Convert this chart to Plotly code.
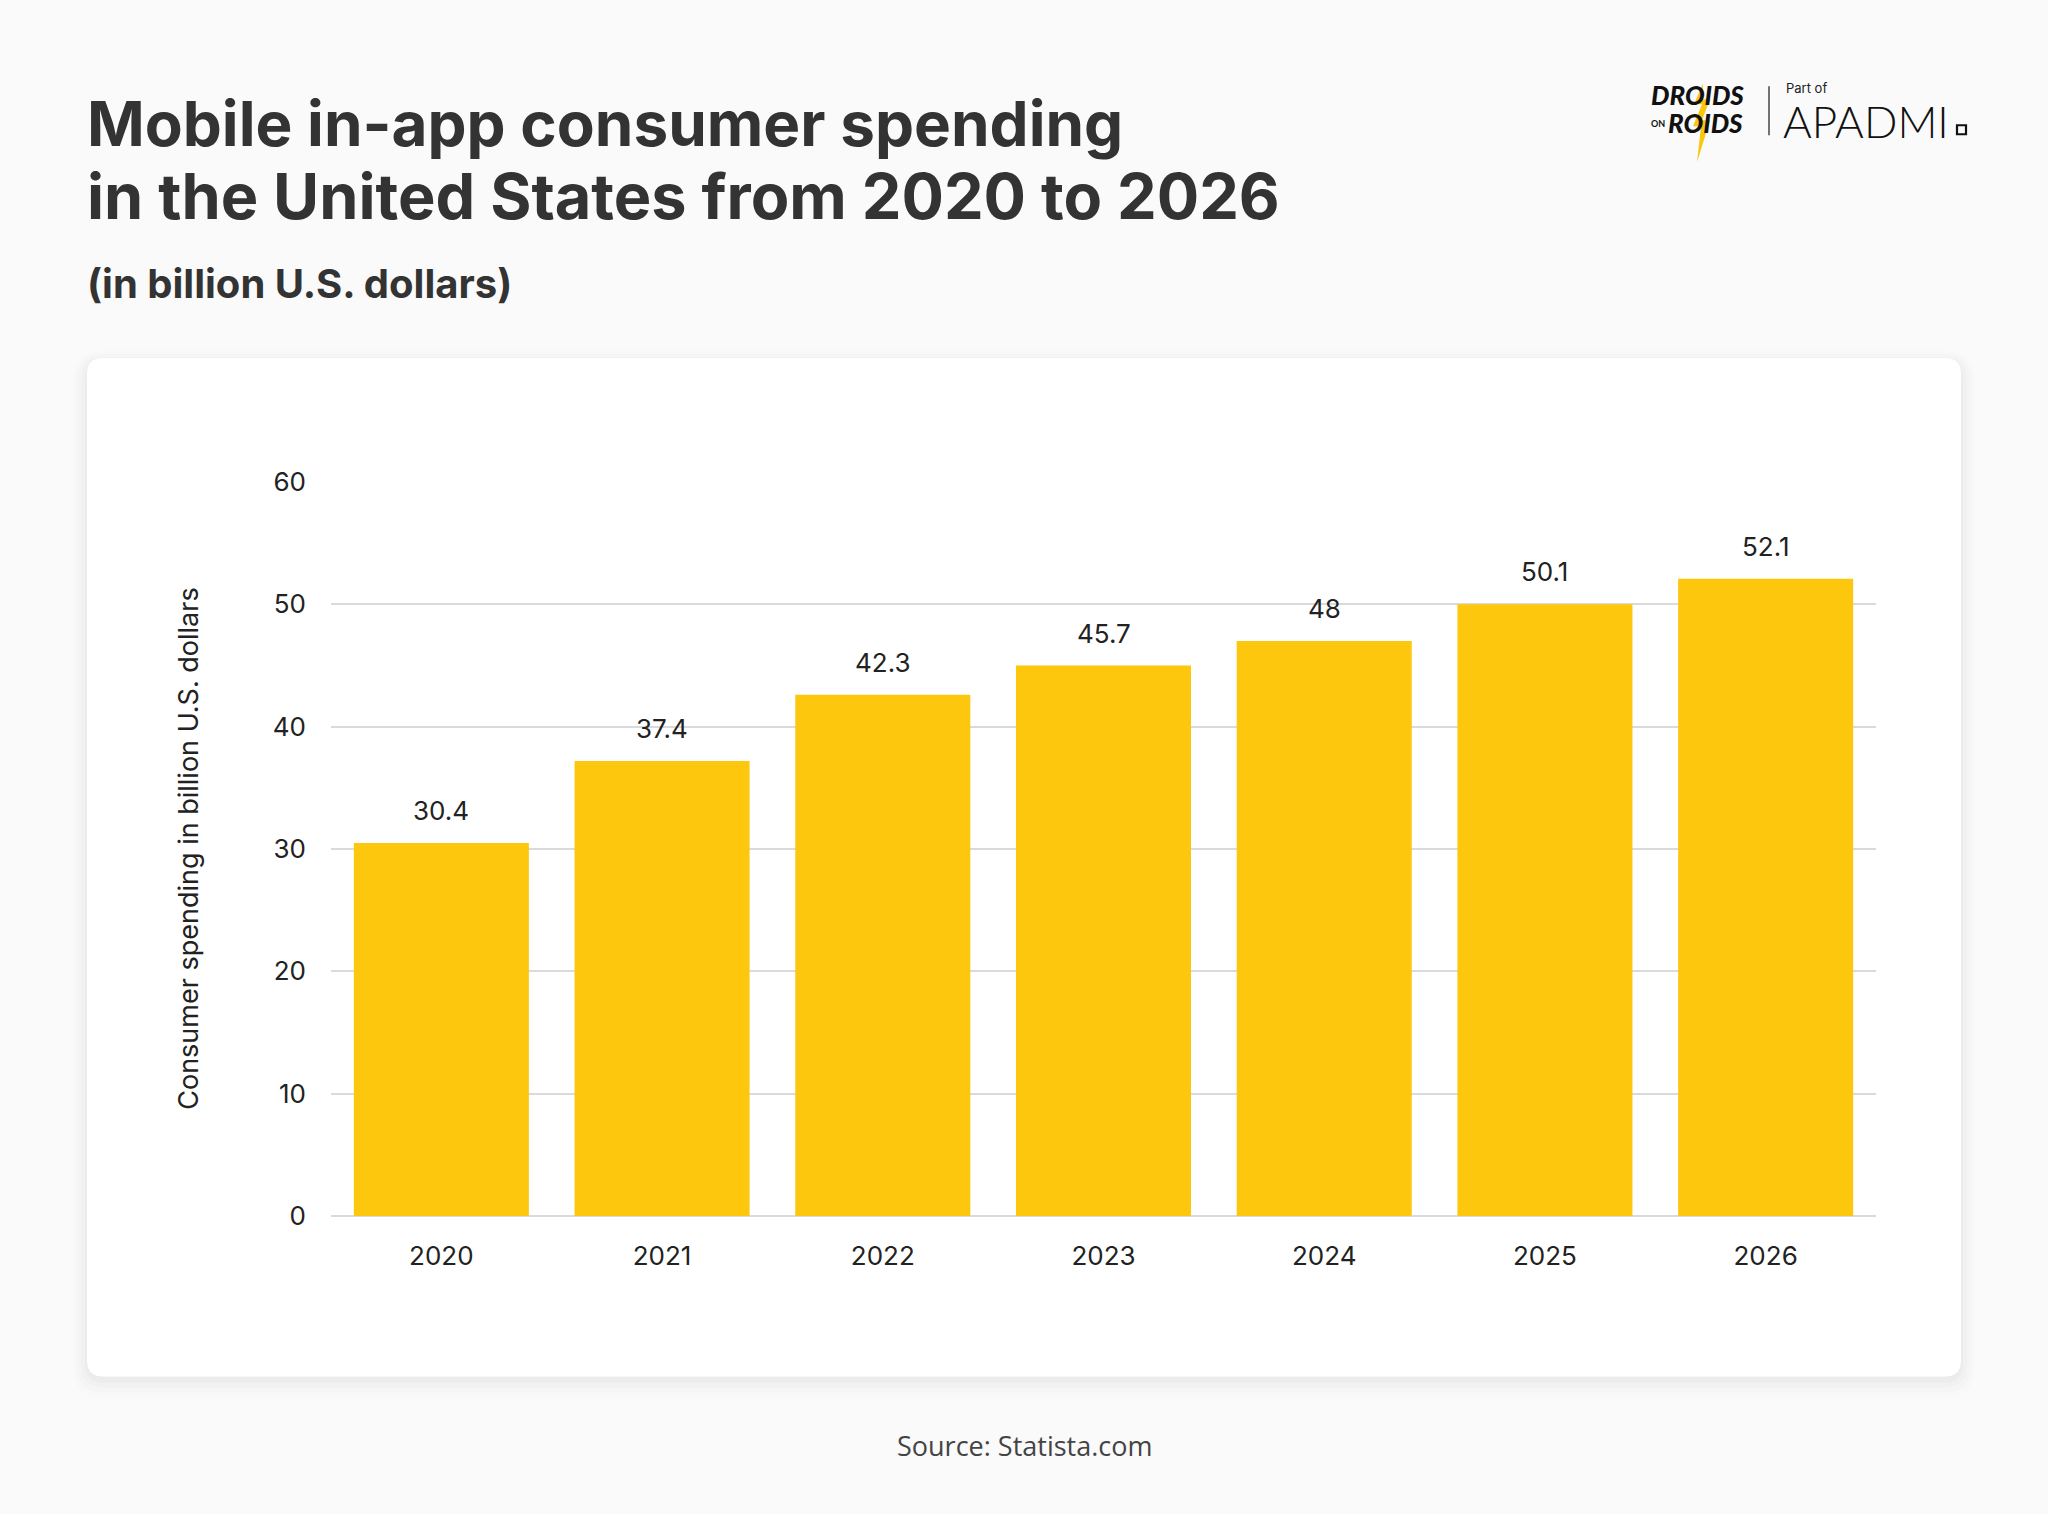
import plotly.graph_objects as go

# ---- data ----
years = ["2020", "2021", "2022", "2023", "2024", "2025", "2026"]
spending = [30.5, 37.2, 42.6, 45.0, 47.0, 50.0, 52.1]          # bar heights as drawn
value_labels = ["30.4", "37.4", "42.3", "45.7", "48", "50.1", "52.1"]  # printed labels
y_ticks = [0, 10, 20, 30, 40, 50, 60]

title_line1 = "Mobile in-app consumer spending"
title_line2 = "in the United States from 2020 to 2026"
subtitle = "(in billion U.S. dollars)"
y_title = "Consumer spending in billion U.S. dollars"
source = "Source: Statista.com"

# ---- geometry (pixels) ----
W, H = 2048, 1514
PL, PR, PT, PB = 331, 1876, 482, 1216.5


def px(x):
    return (x - PL) / (PR - PL)


def py(y):
    return (PB - y) / (PB - PT)


def rrect(x0, y0, x1, y1, r):
    return (
        f"M {px(x0 + r)} {py(y0)} L {px(x1 - r)} {py(y0)} "
        f"Q {px(x1)} {py(y0)} {px(x1)} {py(y0 + r)} "
        f"L {px(x1)} {py(y1 - r)} Q {px(x1)} {py(y1)} {px(x1 - r)} {py(y1)} "
        f"L {px(x0 + r)} {py(y1)} Q {px(x0)} {py(y1)} {px(x0)} {py(y1 - r)} "
        f"L {px(x0)} {py(y0 + r)} Q {px(x0)} {py(y0)} {px(x0 + r)} {py(y0)} Z"
    )


BAR = "#FCC70D"
TXT = "#222222"

fig = go.Figure()
fig.add_trace(go.Bar(x=years, y=spending, marker=dict(color=BAR, line=dict(width=0)),
                     hoverinfo="skip"))

shapes = []
# card shadow
for i, a in enumerate([0.018, 0.014, 0.010, 0.007]):
    e = 2 + i * 4
    shapes.append(dict(type="path", xref="paper", yref="paper", layer="below",
                       path=rrect(87 - e, 358 - e + 4 + i, 1961 + e, 1377 + e + 4 + i, 16 + e),
                       fillcolor=f"rgba(0,0,0,{a})", line=dict(width=0)))
# card
shapes.append(dict(type="path", xref="paper", yref="paper", layer="below",
                   path=rrect(87, 358, 1961, 1377, 16), fillcolor="#ffffff", line=dict(width=0)))
# logo: lightning bolt
bolt = [(1703, 83), (1694, 104), (1702, 104), (1693, 126), (1701, 126), (1697, 162),
        (1710, 120), (1702, 120), (1710, 99), (1702, 99)]
shapes.append(dict(type="path", xref="paper", yref="paper", layer="below",
                   path="M " + " L ".join(f"{px(a)} {py(b)}" for a, b in bolt) + " Z",
                   fillcolor="#F9C80E", line=dict(width=0)))
# logo separator
shapes.append(dict(type="line", xref="paper", yref="paper", x0=px(1769), x1=px(1769),
                   y0=py(86), y1=py(135), line=dict(color="#444", width=1.5)))
# APADMI small square
shapes.append(dict(type="rect", xref="paper", yref="paper", x0=px(1957), x1=px(1966),
                   y0=py(125), y1=py(134), line=dict(color="#111", width=2.2), fillcolor="rgba(0,0,0,0)"))

ann = []


def text(x, y, t, size, family, color, xanchor="left", yanchor="middle", angle=0, weight=None):
    f = dict(size=size, family=family, color=color)
    if weight:
        f["weight"] = weight
    ann.append(dict(x=px(x), y=py(y), xref="paper", yref="paper", text=t, showarrow=False,
                    xanchor=xanchor, yanchor=yanchor, textangle=angle, font=f))


TF = "Inter, Lato, sans-serif"
text(85, 123, title_line1, 62, TF, "#333333", weight=700)
text(85, 196, title_line2, 63, TF, "#333333", weight=700)
text(85, 283, subtitle, 40, TF, "#333333", weight=700)
text(189, 849, y_title, 27, "Inter, sans-serif", TXT, xanchor="center", angle=-90)
text(1024, 1446, source, 27, "Open Sans, sans-serif", "#444444", xanchor="center")

# logo text
text(1649, 95, "<i>DROIDS</i>", 26, "Lato, sans-serif", "#111111", weight=900)
text(1666, 123, "<i>ROIDS</i>", 26, "Lato, sans-serif", "#111111", weight=900)
text(1649, 123, "<b>ON</b>", 9, "Lato, sans-serif", "#111111")
text(1784, 88, "Part of", 13, "Inter, sans-serif", "#222222")
text(1781, 121, "APADMI", 44, "Lato, sans-serif", "#111111", weight=300)

# value labels (x given as category index)
for i, (v, lab) in enumerate(zip(spending, value_labels)):
    ann.append(dict(x=i, y=v, xref="x", yref="y", text=lab, showarrow=False,
                    yanchor="bottom", yshift=15,
                    font=dict(size=26, family="Inter, sans-serif", color=TXT)))

fig.update_layout(
    width=W, height=H,
    margin=dict(l=PL, r=W - PR, t=PT, b=H - PB, pad=0),
    paper_bgcolor="#fafafa", plot_bgcolor="rgba(0,0,0,0)",
    showlegend=False, bargap=0.207,
    shapes=shapes, annotations=ann,
    xaxis=dict(type="category", range=[-0.5, len(years) - 0.5], showgrid=False,
               showline=False, zeroline=False, ticks="", ticklabelstandoff=22,
               tickfont=dict(size=26, family="Inter, sans-serif", color=TXT)),
    yaxis=dict(range=[0, 60], tickvals=y_ticks, showgrid=True, gridcolor="#dadada",
               gridwidth=2, zeroline=True, zerolinecolor="#dadada", zerolinewidth=2,
               showline=False, ticks="", ticklabelstandoff=24,
               tickfont=dict(size=26, family="Inter, sans-serif", color=TXT)),
)

fig.write_html("out.html")
